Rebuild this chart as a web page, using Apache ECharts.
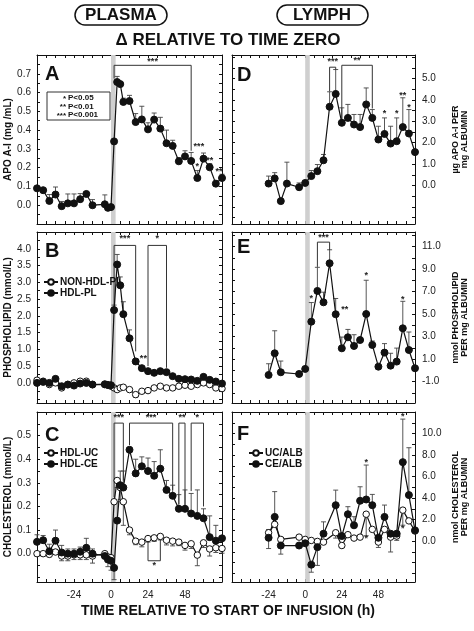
<!DOCTYPE html>
<html><head><meta charset="utf-8">
<script src="https://cdn.jsdelivr.net/npm/echarts@6/dist/echarts.min.js"></script>
<style>html,body{margin:0;padding:0;background:#fff}#c{width:474px;height:631px}</style>
</head><body><div id="c"></div>
<script>
const FONT = '"Liberation Sans", Arial, Helvetica, sans-serif';

// ---------- time grids ----------
const plasmaTime = [-48,-44,-40,-36,-32,-28,-24,-20,-16,-12,-4,-2,0, 2,4,6,8,12,16,20,24,28,32,36,40,44,48,52,56,60,64,68,72];
const lymphTimeD = [-24,-20,-16,-12,-4,0,4,8,12,16,20,24,28,32,36,40,44,48,52,56,60,64,68,72];
const lymphTimeE = [-24,-20,-16,-4,0,4,8,12,16,20,24,28,32,36,40,44,48,52,56,60,64,68,72];
const lymphTimeF = [-24,-20,-16,-4,0,4,8,12,20,24,28,32,36,40,44,48,52,56,60,64,68,72];
const xTickLabels = [-24, 0, 24, 48];

// ---------- A: plasma apo A-I ----------
const apoA1    = [0.09,0.08,0.023,0.057,-0.005,0.01,0.01,0.032,0.06,0.0,0.005,-0.014,-0.01, 0.34,0.656,0.645,0.55,0.555,0.443,0.457,0.404,0.456,0.408,0.33,0.316,0.234,0.26,0.236,0.145,0.248,0.202,0.115,0.145];
const apoA1Err = [0,0,0.034,0.04,0.025,0.05,0.05,0.03,0.01,0.03,0.05,0.01,0.01, 0,0.03,0.01,0.02,0.03,0.045,0.07,0.035,0.035,0.06,0.07,0.03,0.02,0.03,0.045,0.04,0.03,0.02,0.015,0.02];

// ---------- B: plasma phospholipid ----------
const hdlPL       = [0.0,0.03,0.0,0.12,-0.1,-0.05,-0.08,-0.02,0.0,-0.05,-0.04,-0.06,-0.07, 2.17,3.53,2.91,2.05,1.33,0.64,0.44,0.35,0.30,0.35,0.32,0.20,0.12,0.11,0.10,0.06,0.18,0.09,0.04,-0.02];
const hdlPLErr    = [0.05,0.05,0.05,0.05,0.05,0.05,0.05,0.05,0.05,0.05,0.05,0.05,0.05, 0.15,0.3,0.25,0.37,0.25,0.08,0.05,0.05,0.04,0.04,0.04,0.03,0.03,0.03,0.03,0.03,0.04,0.03,0.03,0.03];
const nonHdlPL    = [0.08,0.05,-0.05,0.0,-0.15,-0.05,0.0,0.05,0.05,-0.05,-0.05,-0.07,-0.1, -0.15,-0.2,-0.15,-0.13,-0.2,-0.35,-0.25,-0.23,-0.15,-0.1,-0.15,-0.15,-0.1,-0.07,-0.1,-0.05,0.0,-0.05,-0.15,-0.17];
const nonHdlPLErr = [-0.05,-0.04,-0.04,-0.04,-0.05,-0.04,-0.04,-0.04,-0.04,-0.04,-0.04,-0.04,-0.04, -0.05,-0.05,-0.05,-0.05,-0.06,-0.08,-0.06,-0.05,-0.05,-0.05,-0.05,-0.05,-0.05,-0.05,-0.05,-0.05,-0.05,-0.05,-0.05,-0.05];

// ---------- C: plasma cholesterol ----------
const hdlUC    = [0.0,0.0,-0.003,0.007,-0.01,-0.01,-0.005,-0.005,-0.005,-0.01,0.0,-0.014,-0.017, 0.22,0.31,0.28,0.22,0.10,0.053,0.049,0.064,0.067,0.073,0.057,0.053,0.049,0.035,0.042,-0.006,0.046,0.02,0.025,0.022];
const hdlUCErr = [-0.01,-0.01,-0.01,-0.01,-0.02,-0.02,-0.02,-0.02,-0.02,-0.03,-0.01,-0.01,-0.01, 0,-0.03,-0.05,-0.1,-0.02,-0.015,-0.02,-0.015,-0.015,-0.015,-0.02,-0.02,-0.015,-0.02,-0.02,-0.045,-0.02,-0.03,-0.02,-0.02];
const hdlCE    = [0.05,0.057,0.01,0.055,0.005,0.0,0.0,0.008,0.025,0.0,-0.01,-0.025,-0.03, -0.06,0.14,0.29,0.28,0.44,0.34,0.37,0.35,0.33,0.36,0.27,0.245,0.19,0.19,0.17,0.16,0.15,0.07,0.055,0.065];
const hdlCEErr = [0.03,0.02,0.03,0.045,0.03,0.02,0.02,0.02,0.04,0.02,0.01,-0.03,-0.04, -0.05,0.08,0.06,0.07,0.0,0.06,0.04,0.055,0.06,0.08,0.04,0.045,0.06,0.08,0.085,0.11,0.04,0.09,0.065,0.0];

// ---------- D: lymph apo A-I ----------
const apoLymph    = [0.09,0.33,-0.73,0.09,-0.08,0.12,0.44,0.67,1.18,3.68,4.28,2.93,3.16,2.85,2.73,3.79,3.16,2.15,2.41,1.96,2.07,2.73,2.43,1.56];
const apoLymphErr = [0.35,0.27,0,1.0,0.2,0,0.26,0.31,0.27,0.7,1.14,0.7,0.63,0.47,0.59,0.77,0.39,0.62,0.75,0.81,1.09,1.37,1.12,0];

// ---------- E: lymph phospholipid ----------
const plLymph    = [-0.41,1.52,-0.17,-0.32,0.13,4.33,7.06,6.05,9.52,4.99,1.96,2.94,2.17,2.7,5.01,2.26,0.33,1.58,0.42,0.78,3.74,1.81,0.19];
const plLymphErr = [1.0,2.0,1.0,0.2,0,1.7,2.1,0.9,1.2,1.4,1.0,0.7,1.0,0,3.0,0.35,0,0.8,1.1,1.2,2.4,1.6,0];

// ---------- F: lymph cholesterol ----------
const ceLymph    = [0.31,2.25,-0.41,-0.41,-0.2,-2.19,-0.56,0.69,3.34,0.47,2.5,1.47,3.75,3.87,3.34,0.31,2.25,0.69,0.69,7.34,4.28,1.0];
const ceLymphErr = [-1.0,2.35,-0.8,0,0,-0.7,-1.7,1.1,1.4,0,0.7,0.8,1.3,3.2,1.0,0,1.1,-1.7,0,4.0,4.4,0];
const ucLymph    = [0.78,1.56,0.16,0.37,0.16,0.06,-0.03,-0.09,0.78,-0.41,0.6,0.28,0.37,2.5,1.09,-0.09,1.09,0.37,0.47,2.88,1.88,0.94];
const ucLymphErr = [0.3,0.5,0,0,0,0,0,0,-0.5,-0.2,0,0,0,-2.0,0,-0.5,0,0,-0.4,-1.4,0,0];

// ---------- y tick labels ----------
const yLabelsA = [0.0,0.1,0.2,0.3,0.4,0.5,0.6,0.7];
const yLabelsB = [0.0,0.5,1.0,1.5,2.0,2.5,3.0,3.5,4.0];
const yLabelsC = [0.0,0.1,0.2,0.3,0.4,0.5];
const yLabelsD = [0.0,1.0,2.0,3.0,4.0,5.0];
const yLabelsE = [-1.0,1.0,3.0,5.0,7.0,9.0,11.0];
const yLabelsF = [0.0,2.0,4.0,6.0,8.0,10.0];

// ---------- significance brackets [x1, x2, yBar, yLeftEnd, yRightEnd] and stars [x, y, text] ----------
const bracketsA = [[2, 52, 0.745, 0.675, 0.29]];
const starsA = [[27, 0.765, '***'], [57, 0.315, '***'], [56, 0.205, '*'], [64, 0.24, '**'], [70, 0.18, '**']];
const bracketsB = [[2, 16, 4.1, 2.3, 0.94], [24, 36, 4.1, 0.5, 0.45]];
const starsB = [[9, 4.3, '***'], [30, 4.3, '*'], [21, 0.72, '**']];
const bracketsC = [[2, 8, 0.553, 0.24, 0.31], [12, 40, 0.553, 0.46, 0.27], [44, 48, 0.553, 0.21, 0.2], [52, 60, 0.553, 0.265, 0.2], [24, 32, -0.03, 0.06, 0.07]];
const starsC = [[5, 0.575, '***'], [26, 0.575, '***'], [46, 0.575, '**'], [56, 0.575, '*'], [28, -0.052, '*']];
const bracketsD = [[16, 20, 5.53, 4.4, 5.42], [24, 44, 5.62, 3.0, 3.6]];
const starsD = [[18, 5.8, '***'], [34, 5.85, '**'], [52, 3.35, '*'], [60, 3.35, '*'], [64, 4.2, '**'], [68, 3.65, '*']];
const bracketsE = [[8, 16, 11.4, 9.2, 10.7]];
const starsE = [[12, 11.8, '***'], [4, 6.4, '*'], [26, 5.4, '**'], [40, 8.4, '*'], [64, 6.3, '*']];
const bracketsF = [];
const starsF = [[40, 7.3, '*'], [40, 0.25, '*'], [64, 11.6, '*'], [64, 1.2, '*']];

// ---------- helpers ----------
function range(a, b, s) { const r = []; for (let v = a; v <= b + 1e-9; v += s) r.push(Math.round(v * 1000) / 1000); return r; }
function zip(t, v) { return t.map((x, i) => [x, v[i]]); }

const panels = [
  { grid: {left:37, top:55, width:185, height:169}, side:'left', min:-0.1, max:0.8, labels:yLabelsA, ticks:range(-0.1,0.8,0.05), name:'APO A-I (mg /mL)', xlab:false },
  { grid: {left:37, top:232, width:185, height:171}, side:'left', min:-0.6, max:4.5, labels:yLabelsB, ticks:range(-0.5,4.5,0.25), name:'PHOSPHOLIPID (mmol/L)', xlab:false },
  { grid: {left:37, top:412, width:185, height:170}, side:'left', min:-0.12, max:0.6, labels:yLabelsC, ticks:range(-0.1,0.6,0.05), name:'CHOLESTEROL (mmol/L)', xlab:true },
  { grid: {left:232, top:55, width:183, height:169}, side:'right', min:-1.8, max:6.1, labels:yLabelsD, ticks:range(-1.5,6,0.5), name:'µg APO A-I PER\nmg ALBUMIN', xlab:false },
  { grid: {left:232, top:232, width:183, height:171}, side:'right', min:-2.9, max:12.3, labels:yLabelsE, ticks:range(-2,12,1), name:'nmol PHOSPHOLIPID\nPER mg ALBUMIN', xlab:false },
  { grid: {left:232, top:412, width:183, height:170}, side:'right', min:-3.8, max:12, labels:yLabelsF, ticks:range(-3,12,1), name:'nmol CHOLESTEROL\nPER mg ALBUMIN', xlab:true },
];

const grid = [], xAxis = [], yAxis = [], series = [];
const AX = '#111';
panels.forEach((p, g) => {
  grid.push(p.grid);
  const xBase = { type:'value', gridIndex:g, min:-48, max:72, interval:6,
    axisLine:{ show:true, onZero:false, lineStyle:{ color:AX, width:1 } },
    axisTick:{ inside:true, length:3, lineStyle:{ color:AX } },
    splitLine:{ show:false } };
  xAxis.push(Object.assign({}, xBase, { position:'bottom',
    axisLabel:{ show:p.xlab, margin:8, color:'#222', fontSize:10, fontFamily:FONT,
      formatter: v => xTickLabels.includes(v) ? String(v) : '' } }));
  xAxis.push(Object.assign({}, xBase, { position:'top', axisLabel:{ show:false } }));
  const yBase = { type:'value', gridIndex:g, min:p.min, max:p.max,
    axisLine:{ show:true, onZero:false, lineStyle:{ color:AX, width:1 } },
    axisTick:{ inside:true, length:3, customValues:p.ticks, lineStyle:{ color:AX } },
    splitLine:{ show:false } };
  const isLeft = p.side === 'left';
  yAxis.push(Object.assign({}, yBase, { position:p.side,
    axisLabel:{ show:true, customValues:p.labels, margin:isLeft ? 6 : 7, color:'#222', fontSize:10, fontFamily:FONT,
      formatter: v => Number(v).toFixed(1) },
    name:p.name, nameLocation:'middle', nameRotate:90, nameGap:isLeft ? 19 : 36,
    nameTextStyle:{ fontSize:isLeft ? 10 : 9, fontWeight:'bold', color:'#111', fontFamily:FONT, lineHeight:9 } }));
  yAxis.push(Object.assign({}, yBase, { position:isLeft ? 'right' : 'left', axisLabel:{ show:false } }));
  // gray infusion band
  series.push({ type:'line', xAxisIndex:2*g, yAxisIndex:2*g, data:[], z:1, silent:true,
    markArea:{ silent:true, itemStyle:{ color:'#cfcfcf' }, data:[[{ xAxis:0 }, { xAxis:3 }]] } });
});

function lineSeries(g, name, times, vals, open) {
  return { type:'line', name, xAxisIndex:2*g, yAxisIndex:2*g, data:zip(times, vals), z:4,
    symbol:'circle', symbolSize:open ? 6.5 : 7, showSymbol:true, animation:false,
    lineStyle:{ color:'#111', width:1.2 },
    itemStyle:{ color:open ? '#fff' : '#111', borderColor:'#111', borderWidth:1 } };
}
function errSeries(g, times, vals, errs) {
  return { type:'custom', xAxisIndex:2*g, yAxisIndex:2*g, z:2, silent:true,
    data: times.map((t, i) => [t, vals[i], errs[i]]),
    renderItem(params, api) {
      const x = api.value(0), y = api.value(1), e = api.value(2);
      if (!e) return null;
      const a = api.coord([x, y]), b = api.coord([x, y + e]);
      const st = { stroke:'#444', lineWidth:0.9 };
      return { type:'group', children:[
        { type:'line', shape:{ x1:a[0], y1:a[1], x2:b[0], y2:b[1] }, style:st },
        { type:'line', shape:{ x1:b[0]-2.5, y1:b[1], x2:b[0]+2.5, y2:b[1] }, style:st } ] };
    } };
}
function bracketSeries(g, list) {
  return { type:'custom', xAxisIndex:2*g, yAxisIndex:2*g, z:3, silent:true, data:list,
    renderItem(params, api) {
      const x1 = api.value(0), x2 = api.value(1), yb = api.value(2), y1 = api.value(3), y2 = api.value(4);
      const pts = [api.coord([x1, y1]), api.coord([x1, yb]), api.coord([x2, yb]), api.coord([x2, y2])];
      return { type:'polyline', shape:{ points:pts }, style:{ stroke:'#333', lineWidth:1, fill:null } };
    } };
}
function starSeries(g, list) {
  return { type:'custom', xAxisIndex:2*g, yAxisIndex:2*g, z:5, silent:true,
    data:list.map(s => [s[0], s[1]]),
    renderItem(params, api) {
      const p = api.coord([api.value(0), api.value(1)]);
      return { type:'text', x:p[0], y:p[1],
        style:{ text:list[params.dataIndex][2], font:'bold 9px ' + FONT, fill:'#222',
          align:'center', verticalAlign:'middle', textAlign:'center', textVerticalAlign:'middle' } };
    } };
}

// A
series.push(errSeries(0, plasmaTime, apoA1, apoA1Err), lineSeries(0, 'APO A-I', plasmaTime, apoA1, false),
  bracketSeries(0, bracketsA), starSeries(0, starsA));
// B
series.push(errSeries(1, plasmaTime, nonHdlPL, nonHdlPLErr), errSeries(1, plasmaTime, hdlPL, hdlPLErr),
  lineSeries(1, 'NON-HDL-PL', plasmaTime, nonHdlPL, true), lineSeries(1, 'HDL-PL', plasmaTime, hdlPL, false),
  bracketSeries(1, bracketsB), starSeries(1, starsB));
// C
series.push(errSeries(2, plasmaTime, hdlUC, hdlUCErr), errSeries(2, plasmaTime, hdlCE, hdlCEErr),
  lineSeries(2, 'HDL-UC', plasmaTime, hdlUC, true), lineSeries(2, 'HDL-CE', plasmaTime, hdlCE, false),
  bracketSeries(2, bracketsC), starSeries(2, starsC));
// D
series.push(errSeries(3, lymphTimeD, apoLymph, apoLymphErr), lineSeries(3, 'APO A-I/ALB', lymphTimeD, apoLymph, false),
  bracketSeries(3, bracketsD), starSeries(3, starsD));
// E
series.push(errSeries(4, lymphTimeE, plLymph, plLymphErr), lineSeries(4, 'PL/ALB', lymphTimeE, plLymph, false),
  bracketSeries(4, bracketsE), starSeries(4, starsE));
// F
series.push(errSeries(5, lymphTimeF, ucLymph, ucLymphErr), errSeries(5, lymphTimeF, ceLymph, ceLymphErr),
  lineSeries(5, 'UC/ALB', lymphTimeF, ucLymph, true), lineSeries(5, 'CE/ALB', lymphTimeF, ceLymph, false),
  bracketSeries(5, bracketsF), starSeries(5, starsF));

function legendAt(left, top, names) {
  return { left, top, orient:'vertical', itemGap:1, itemWidth:14, itemHeight:7, padding:0,
    selectedMode:false, data:names,
    textStyle:{ fontSize:10, fontWeight:'bold', color:'#111', fontFamily:FONT, padding:[0,0,0,-3] } };
}

function txt(x, y, text, size, align) {
  return { type:'text', x, y, silent:true,
    style:{ text, font:'bold ' + size + 'px ' + FONT, fill:'#111',
      align:align || 'center', verticalAlign:'middle', textAlign:align || 'center', textVerticalAlign:'middle' } };
}

const graphic = [
  { type:'rect', shape:{ x:75, y:5, width:92, height:20, r:10 }, style:{ fill:'none', stroke:'#111', lineWidth:1.5 } },
  txt(121, 15.5, 'PLASMA', 17),
  { type:'rect', shape:{ x:277, y:5, width:91, height:20, r:10 }, style:{ fill:'none', stroke:'#111', lineWidth:1.5 } },
  txt(322, 15.5, 'LYMPH', 17),
  txt(228, 40, 'Δ RELATIVE TO TIME ZERO', 17),
  txt(228, 611, 'TIME RELATIVE TO START OF INFUSION (h)', 14),
  txt(45, 74, 'A', 20, 'left'), txt(45, 251, 'B', 20, 'left'), txt(45, 435, 'C', 20, 'left'),
  txt(237, 75, 'D', 20, 'left'), txt(237, 247, 'E', 20, 'left'), txt(237, 434, 'F', 20, 'left'),
  { type:'rect', shape:{ x:47, y:92, width:63, height:28 }, style:{ fill:'#fff', stroke:'#333', lineWidth:1 }, z:10 },
  Object.assign(txt(66, 98.5, '*', 8, 'right'), { z:11 }), Object.assign(txt(68, 98, 'P<0.05', 8, 'left'), { z:11 }),
  Object.assign(txt(66, 107, '**', 8, 'right'), { z:11 }), Object.assign(txt(68, 106.5, 'P<0.01', 8, 'left'), { z:11 }),
  Object.assign(txt(66, 115.5, '***', 8, 'right'), { z:11 }), Object.assign(txt(68, 115, 'P<0.001', 8, 'left'), { z:11 }),
];

const chart = echarts.init(document.getElementById('c'));
chart.setOption({
  animation:false,
  backgroundColor:'#fff',
  textStyle:{ fontFamily:FONT },
  grid, xAxis, yAxis, series, graphic,
  legend:[ legendAt(43, 277, ['NON-HDL-PL','HDL-PL']), legendAt(43, 448, ['HDL-UC','HDL-CE']), legendAt(248, 448, ['UC/ALB','CE/ALB']) ]
});
</script></body></html>
